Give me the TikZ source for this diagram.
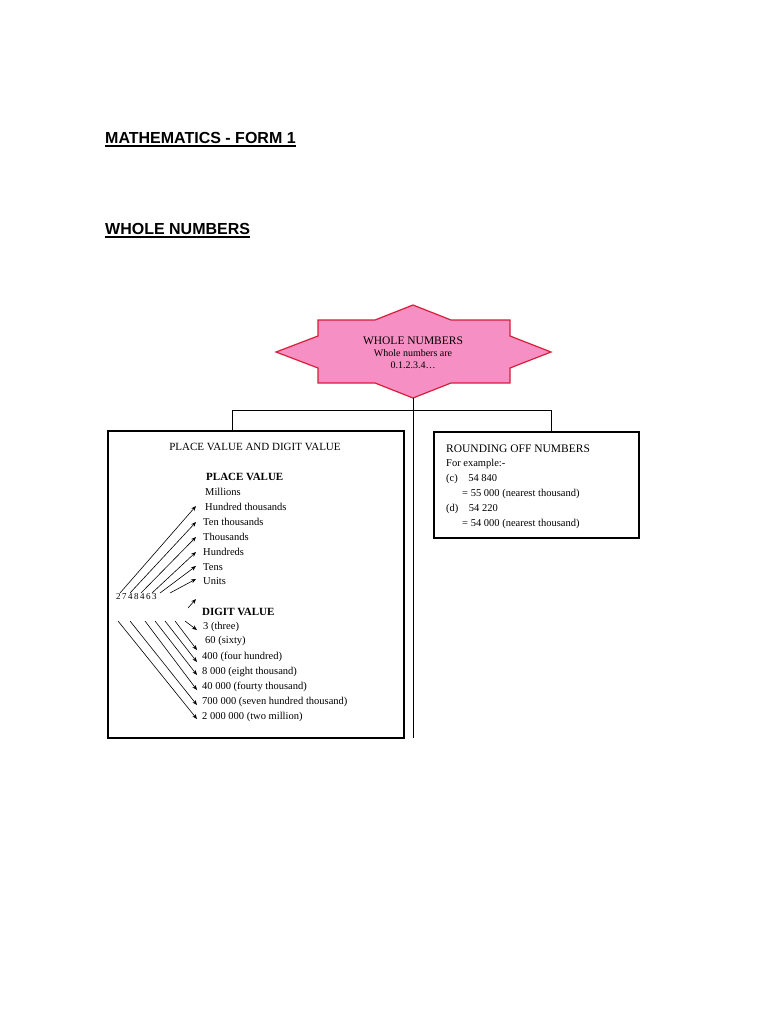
\documentclass[tikz,border=0pt]{standalone}
\usepackage{fontspec}
\setmainfont{Liberation Serif}
\newfontfamily\hfont{Liberation Sans}
\usetikzlibrary{arrows.meta}
\definecolor{starpink}{HTML}{F68FC3}
\definecolor{starred}{HTML}{D81E3A}
\begin{document}
\begin{tikzpicture}[x=1pt,y=-1pt,
  txt/.style={anchor=west,inner sep=0pt,font=\fontsize{10.5}{12}\selectfont},
  hd/.style={anchor=west,inner sep=0pt,font=\fontsize{11}{13}\selectfont\bfseries},
  title/.style={anchor=west,inner sep=0pt,font=\hfont\fontsize{16}{18}\selectfont\bfseries},
  box/.style={draw,line width=2.2pt},
  thin/.style={draw,line width=0.6pt},
  arr/.style={-{Stealth[length=5pt,width=4pt]},line width=0.6pt}]
\useasboundingbox[fill=white] (0,0) rectangle (768,1024);
\node[title] (t1) at (105,138) {MATHEMATICS - FORM 1};
\node[title] (t2) at (105,229) {WHOLE NUMBERS};
\draw[line width=1.3pt] ([yshift=-2.5pt]t1.base west) -- ([yshift=-2.5pt]t1.base east);
\draw[line width=1.3pt] ([yshift=-2.5pt]t2.base west) -- ([yshift=-2.5pt]t2.base east);
% star
\draw[fill=starpink,draw=starred,line width=1.2pt]
 (318,320) -- (375,320) -- (413,305) -- (451,320) -- (510,320) -- (510,336) -- (551,352)
 -- (510,368) -- (510,383) -- (451,383) -- (413,398) -- (375,383) -- (318,383)
 -- (318,368) -- (276,352) -- (318,336) -- cycle;
\coordinate (sb) at (413,398);
\node[inner sep=0pt,font=\fontsize{11.5}{13}\selectfont,align=center] (star) at (413,353)
 {WHOLE NUMBERS\\[-1pt]{\fontsize{10}{12}\selectfont Whole numbers are}\\[-1pt]{\fontsize{10}{12}\selectfont 0.1.2.3.4\dots}};
% connectors
\coordinate (bot) at (413,738);
\coordinate (hl) at (232,410);
\coordinate (hr) at (551,410);
\draw[thin] (sb) -- (bot);
\draw[thin] (hl) -- (hr);
% boxes
\draw[box] (108,431) rectangle (404,738);
\draw[box] (434,432) rectangle (639,538);
\coordinate (lt) at (232,431);
\coordinate (rt) at (551,432);
\draw[thin] (hl) -- (lt);
\draw[thin] (hr) -- (rt);
% left box text
\node[inner sep=0pt,font=\fontsize{11}{13}\selectfont] (lh) at (255,447) {PLACE VALUE AND DIGIT VALUE};
\node[hd] (pv) at (206,477) {PLACE VALUE};
\node[txt] (p1) at (205,492) {Millions};
\node[txt] (p2) at (205,507) {Hundred thousands};
\node[txt] (p3) at (203,522) {Ten thousands};
\node[txt] (p4) at (203,537) {Thousands};
\node[txt] (p5) at (203,552) {Hundreds};
\node[txt] (p6) at (203,567) {Tens};
\node[txt] (p7) at (203,581) {Units};
\node[txt,font=\fontsize{9}{10}\selectfont] (num) at (116,597) {2\,7\,4\,8\,4\,6\,3};
\node[hd] (dv) at (202,612) {DIGIT VALUE};
\node[txt] (d1) at (203,627) {3 (three)};
\node[txt] (d2) at (205,641) {60 (sixty)};
\node[txt] (d3) at (202,657) {400 (four hundred)};
\node[txt] (d4) at (202,672) {8 000 (eight thousand)};
\node[txt] (d5) at (202,687) {40 000 (fourty thousand)};
\node[txt] (d6) at (202,702) {700 000 (seven hundred thousand)};
\node[txt] (d7) at (202,717) {2 000 000 (two million)};
% up arrows
\foreach \i/\sx/\sy/\ey in {0/120/593/506,1/130/593/522,2/141/593/537,3/152/593/552,4/160/593/566,5/170/593/579,6/188/608/599}{
  \coordinate (us\i) at (\sx,\sy);
  \coordinate (ue\i) at (196,\ey);
  \draw[arr] (us\i) -- (ue\i);
}
% down arrows
\foreach \i/\sx/\ey in {0/118/719,1/130/705,2/145/690,3/155/675,4/165/662,5/175/650,6/185/630}{
  \coordinate (ds\i) at (\sx,621);
  \coordinate (de\i) at (197,\ey);
  \draw[arr] (ds\i) -- (de\i);
}
% right box text
\node[txt,font=\fontsize{11.5}{13}\selectfont] (rh) at (446,449) {ROUNDING OFF NUMBERS};
\node[txt] (r1) at (446,464) {For example:-};
\node[txt] (r2) at (446,479) {(c)\quad 54 840};
\node[txt] (r3) at (462,494) {= 55 000 (nearest thousand)};
\node[txt] (r4) at (446,509) {(d)\quad 54 220};
\node[txt] (r5) at (462,524) {= 54 000 (nearest thousand)};
\end{tikzpicture}
\end{document}
